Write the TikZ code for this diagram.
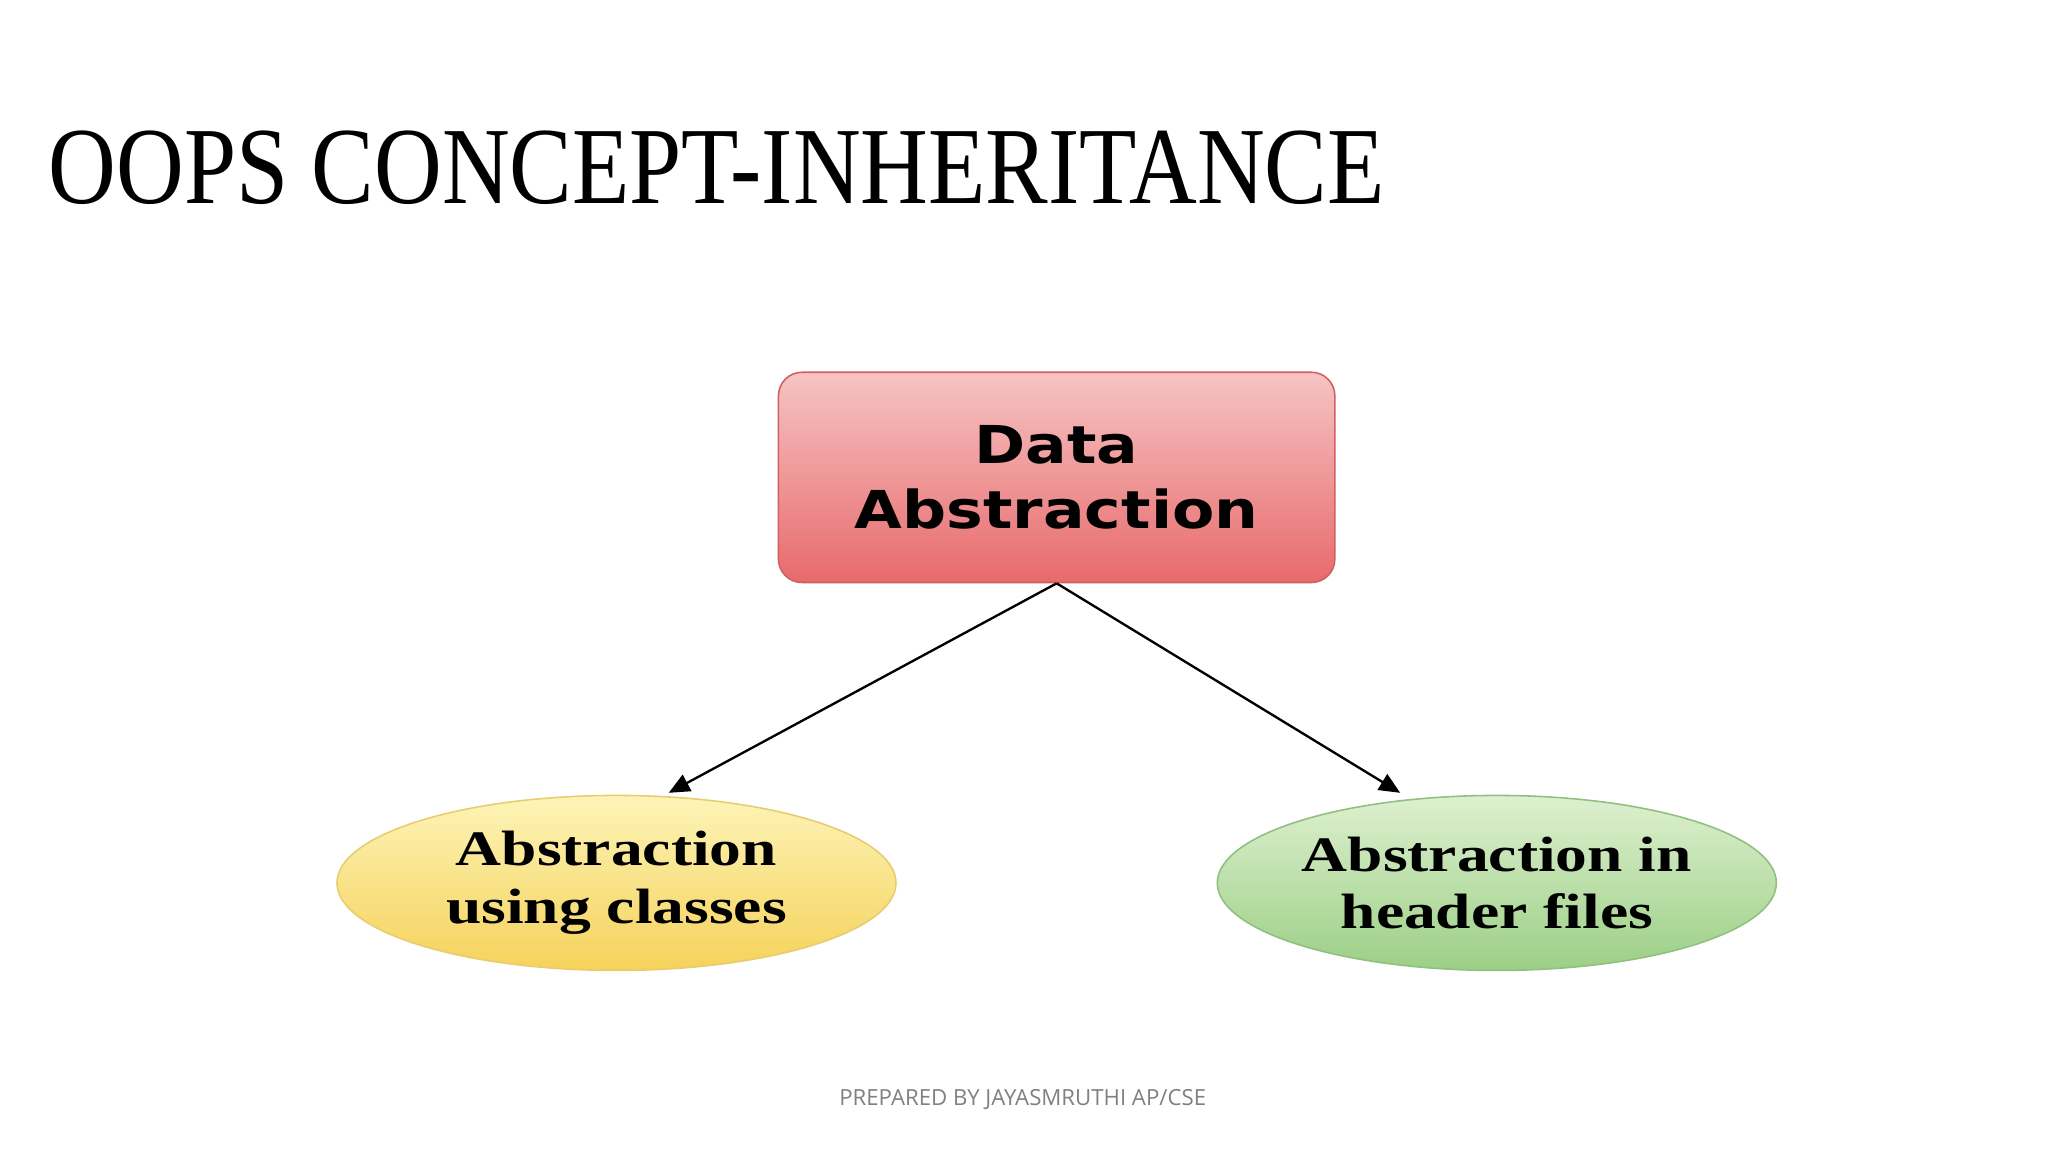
\documentclass[tikz,border=0pt]{standalone}
\usepackage{fontspec}
\usepackage{graphicx}
\setmainfont{Liberation Serif}
\newfontfamily\boxsans{DejaVu Sans}
\newfontfamily\footsans{Open Sans}
\usetikzlibrary{shapes.geometric,arrows.meta}
\definecolor{redtop}{HTML}{F6C4C4}
\definecolor{redbot}{HTML}{E86A6C}
\definecolor{redline}{HTML}{D06060}
\definecolor{yeltop}{HTML}{FDF4B8}
\definecolor{yelbot}{HTML}{F5D25A}
\definecolor{yelline}{HTML}{E8CC70}
\definecolor{grntop}{HTML}{DDF0CF}
\definecolor{grnbot}{HTML}{9CCF86}
\definecolor{grnline}{HTML}{90C080}
\tikzset{
  ell/.style={ellipse, minimum width=428pt, minimum height=134pt, inner sep=0pt, line width=1.2pt, align=center,
     font=\fontsize{38}{44}\selectfont\bfseries},
  conn/.style={line width=1.8pt, -{Triangle[length=16pt,width=14pt]}}
}
\begin{document}
\begin{tikzpicture}[x=1pt,y=-1pt]
\useasboundingbox (0,0) rectangle (1568,882);
\node[anchor=base west, font=\fontsize{84}{90}\selectfont, inner sep=0pt] (title) at (37,156) {\scalebox{0.855}[1]{OOPS CONCEPT-INHERITANCE}};
\node[rounded corners=18pt, minimum width=426pt, minimum height=161pt, top color=redtop, bottom color=redbot, draw=redline, line width=1.2pt, align=center, font=\boxsans\fontsize{40}{50}\selectfont\bfseries] (da) at (809,365.5) {\scalebox{1.18}[1]{Data}\\\scalebox{1.18}[1]{Abstraction}};
\node[ell, top color=yeltop, bottom color=yelbot, draw=yelline] (l) at (472,676) {\scalebox{1.28}[1]{Abstraction}\\\scalebox{1.28}[1]{using classes}};
\node[ell, top color=grntop, bottom color=grnbot, draw=grnline] (r) at (1146,676) {\scalebox{1.28}[1]{Abstraction in}\\\scalebox{1.28}[1]{header files}};
\coordinate (lt) at (512,607);
\coordinate (rt) at (1072,607);
\draw[conn] (da.south) -- (lt);
\draw[conn] (da.south) -- (rt);
\node[font=\footsans\fontsize{17}{19}\selectfont, text=gray] (foot) at (783,842) {PREPARED BY JAYASMRUTHI AP/CSE};
\end{tikzpicture}
\end{document}
